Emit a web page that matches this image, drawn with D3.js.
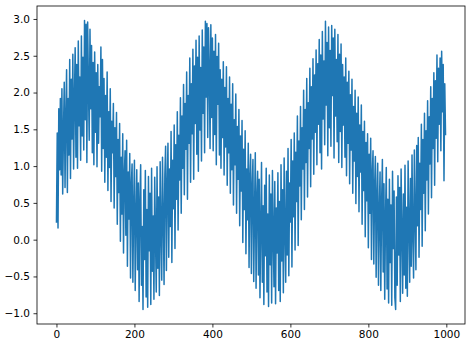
<!DOCTYPE html>
<html>
<head>
<meta charset="utf-8">
<script src="https://cdn.jsdelivr.net/npm/d3@7"></script>
<style>
  body { margin: 0; background: #fff; }
  text { font-family: "DejaVu Sans", sans-serif; }
</style>
</head>
<body>
<svg id="chart" width="474" height="357"></svg>
<script>
// sample index step (one value every 2 samples, 0..998)
const xStep = 2;

// series values, left to right
const values = [
  0.23, 1.45, 0.16, 1.78, 0.95, 1.92, 0.88, 2.05, 0.62, 1.47,
  2.14, 0.71, 1.66, 2.31, 0.64, 1.92, 1.15, 2.45, 0.83, 2.18,
  1.37, 2.52, 0.96, 1.88, 2.61, 1.12, 2.38, 0.97, 2.70, 1.55,
  2.21, 1.08, 2.77, 1.41, 2.48, 1.22, 2.98, 1.63, 2.93, 1.05,
  2.96, 2.12, 1.35, 2.86, 1.78, 2.64, 1.18, 2.41, 1.02, 2.55,
  1.46, 2.27, 0.99, 2.38, 1.31, 2.08, 1.67, 2.62, 0.93, 2.45,
  1.24, 2.19, 0.78, 1.96, 1.12, 2.28, 0.67, 1.74, 0.98, 2.05,
  0.52, 1.61, 1.18, 1.85, 0.43, 1.52, 0.86, 1.73, 0.21, 1.36,
  0.64, 1.58, -0.02, 1.12, 0.35, 1.44, -0.18, 0.87, 1.21, 0.06,
  1.35, -0.36, 0.92, 0.28, 1.17, -0.52, 0.74, 1.03, -0.58, 0.46,
  1.08, -0.69, 0.31, 0.95, -0.41, 0.77, -0.84, 0.52, 1.02, -0.62,
  0.18, -0.95, 0.68, -0.27, 0.94, -0.78, 0.41, -0.92, 0.86, -0.15,
  0.63, -0.88, 0.97, -0.43, 0.32, -0.81, 0.85, 0.07, -0.71, 0.99,
  -0.39, 0.58, -0.76, 1.06, 0.12, -0.55, 1.12, 0.34, -0.61, 0.88,
  1.27, -0.42, 0.71, 1.31, -0.24, 0.96, 0.18, 1.47, -0.31, 1.08,
  0.42, 1.56, -0.12, 1.29, 0.55, 1.74, 0.13, 1.42, 0.81, 1.93,
  0.36, 1.68, 0.97, 2.11, 0.61, 1.85, 1.23, 2.28, 0.55, 1.96,
  1.31, 2.47, 0.78, 2.12, 1.44, 2.59, 0.82, 2.36, 1.58, 2.71,
  1.16, 2.48, 0.93, 2.77, 1.49, 2.34, 1.07, 2.85, 1.72, 2.62,
  1.18, 2.97, 1.94, 2.94, 1.39, 2.88, 2.31, 1.24, 2.92, 1.66,
  2.74, 1.21, 2.56, 1.43, 2.79, 1.02, 2.49, 1.84, 2.67, 1.15,
  2.31, 0.97, 2.18, 1.39, 2.42, 0.88, 2.07, 1.26, 2.35, 0.74,
  1.92, 1.18, 2.21, 0.63, 1.84, 0.95, 2.12, 0.47, 1.63, 1.02,
  1.98, 0.36, 1.54, 0.82, 1.77, 0.19, 1.41, 0.66, 1.62, -0.04,
  1.23, 0.41, 1.48, -0.19, 0.96, 0.27, 1.31, -0.38, 0.84, 1.16,
  -0.46, 0.71, 1.09, -0.57, 0.38, 1.18, -0.66, 0.57, 0.93, -0.48,
  0.82, -0.79, 0.21, 1.05, -0.58, 0.46, -0.88, 0.74, -0.22, 0.97,
  -0.71, 0.35, -0.91, 0.88, -0.34, 0.62, -0.86, 0.94, 0.08, -0.64,
  0.79, -0.87, 0.43, -0.18, 0.91, -0.69, 0.52, -0.84, 1.02, -0.29,
  0.68, -0.72, 1.11, 0.16, -0.58, 0.93, -0.21, 1.24, -0.49, 0.77,
  0.24, 1.36, -0.37, 1.07, 0.31, 1.45, -0.14, 1.19, 0.52, 1.68,
  -0.08, 1.34, 0.73, 1.81, 0.27, 1.52, 0.96, 2.03, 0.41, 1.77,
  1.05, 2.19, 0.58, 1.86, 1.24, 2.33, 0.72, 2.08, 1.37, 2.46,
  0.89, 2.24, 1.46, 2.58, 1.02, 2.39, 1.57, 2.72, 1.18, 2.51,
  0.96, 2.83, 1.64, 2.43, 1.29, 2.97, 1.83, 2.68, 1.14, 2.89,
  1.52, 2.57, 1.27, 2.91, 1.96, 2.74, 1.11, 2.86, 1.68, 2.45,
  1.33, 2.79, 1.05, 2.52, 1.47, 2.66, 0.98, 2.38, 1.56, 2.21,
  1.12, 2.47, 0.87, 2.14, 1.31, 2.29, 0.76, 1.97, 1.22, 2.18,
  0.63, 1.81, 1.07, 2.03, 0.49, 1.72, 0.86, 1.94, 0.38, 1.56,
  0.92, 1.83, 0.21, 1.47, 0.67, 1.61, 0.04, 1.32, 0.53, 1.44,
  -0.11, 1.16, 0.36, 1.38, -0.27, 0.89, 1.21, -0.33, 0.71, 1.13,
  -0.51, 0.58, 1.04, -0.62, 0.37, 0.92, -0.69, 0.51, 1.09, -0.44,
  0.76, -0.81, 0.29, 0.98, -0.67, 0.55, -0.86, 0.82, -0.31, 0.47,
  -0.89, 0.93, -0.12, 0.66, -0.79, -0.95, 0.58, -0.62, 0.87, -0.21,
  0.71, -0.84, 0.96, 0.13, -0.73, 0.62, -0.48, 1.01, -0.66, 0.44,
  -0.77, 1.07, 0.25, -0.58, 0.83, -0.36, 1.15, 0.07, -0.52, 1.22,
  0.34, -0.41, 1.28, 0.19, 1.39, -0.24, 1.04, 0.41, 1.57, -0.09,
  1.36, 0.63, 1.72, 0.12, 1.48, 0.81, 1.89, 0.35, 1.67, 1.03,
  2.08, 0.57, 1.92, 1.24, 2.27, 0.74, 2.16, 1.38, 2.51, 1.06,
  2.33, 1.57, 2.47, 1.21, 2.56, 1.74, 2.38, 0.80, 2.12, 1.42
];

const yTicks = [-1.0, -0.5, 0.0, 0.5, 1.0, 1.5, 2.0, 2.5, 3.0];
const xTicks = [0, 200, 400, 600, 800, 1000];

const width = 474, height = 357;
const margin = {top: 6, right: 9, bottom: 33, left: 37};

const svg = d3.select('#chart');

const points = values.map(function(v, i) { return [i * xStep, v]; });

const xMin = 0, xMax = (values.length - 1) * xStep;
const yMin = d3.min(values), yMax = d3.max(values);
const xPad = (xMax - xMin) * 0.05, yPad = (yMax - yMin) * 0.05;

const x = d3.scaleLinear()
  .domain([xMin - xPad, xMax + xPad])
  .range([margin.left, width - margin.right]);
const y = d3.scaleLinear()
  .domain([yMin - yPad, yMax + yPad])
  .range([height - margin.bottom, margin.top]);

const line = d3.line()
  .x(function(d) { return x(d[0]); })
  .y(function(d) { return y(d[1]); });

svg.append('path')
  .datum(points)
  .attr('d', line)
  .attr('fill', 'none')
  .attr('stroke', '#1f77b4')
  .attr('stroke-width', 1.5)
  .attr('stroke-linejoin', 'round')
  .attr('stroke-linecap', 'butt');

var xAxis = svg.append('g')
  .attr('transform', 'translate(0,' + (height - margin.bottom) + ')')
  .call(d3.axisBottom(x).tickValues(xTicks).tickFormat(d3.format('d'))
    .tickSize(3.5).tickPadding(3.5).tickSizeOuter(0));

var yAxis = svg.append('g')
  .attr('transform', 'translate(' + margin.left + ',0)')
  .call(d3.axisLeft(y).tickValues(yTicks).tickFormat(d3.format('.1f'))
    .tickSize(3.5).tickPadding(3.5).tickSizeOuter(0));

[xAxis, yAxis].forEach(function(g) {
  g.select('.domain').remove();
  g.selectAll('.tick line').attr('stroke', '#000').attr('stroke-width', 0.8);
  g.selectAll('.tick text')
    .attr('fill', '#000')
    .style('font-size', '10.5px')
    .style('font-family', '"DejaVu Sans", sans-serif');
});

// frame (all four spines)
svg.append('rect')
  .attr('x', margin.left)
  .attr('y', margin.top)
  .attr('width', width - margin.left - margin.right)
  .attr('height', height - margin.top - margin.bottom)
  .attr('fill', 'none')
  .attr('stroke', '#000')
  .attr('stroke-width', 0.8);
</script>
</body>
</html>
